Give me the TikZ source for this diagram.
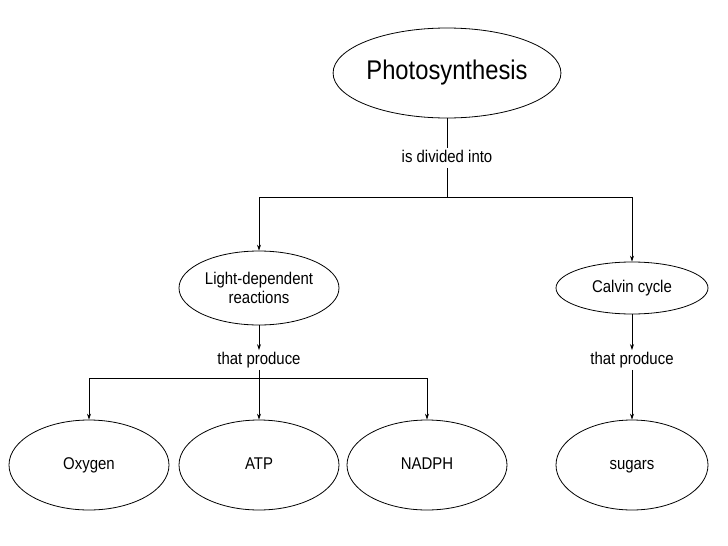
\documentclass[tikz,border=0pt]{standalone}
\usepackage{fontspec}
\setmainfont{Liberation Sans}[FakeStretch=0.88]
\usetikzlibrary{shapes.geometric,arrows.meta}
\begin{document}
\begin{tikzpicture}[x=1pt,y=-1pt,
 el/.style={draw,ellipse,line width=0.8pt,inner sep=0pt,font=\fontsize{17}{19}\selectfont,align=center},
 lab/.style={font=\fontsize{17}{19}\selectfont,fill=white,inner sep=2pt,text height=12pt,text depth=3.5pt},
 ln/.style={line width=0.7pt},
 ar/.style={ln,-{Stealth[length=6pt,width=4pt]}}]
\useasboundingbox (0,0) rectangle (728,546);
\node[el,minimum width=200pt,minimum height=90pt,font=\fontsize{27}{30}\selectfont] (ph) at (447,73) {Photosynthesis};
\node[lab] (d) at (447,158) {is divided into};
\node[el,minimum width=160pt,minimum height=74pt] (ld) at (259,288) {Light-dependent\\reactions};
\node[el,minimum width=152pt,minimum height=52pt] (cc) at (632,288) {Calvin cycle};
\node[lab] (p1) at (259,360) {that produce};
\node[lab] (p2) at (632,360) {that produce};
\tikzset{bot/.style={el,minimum height=90pt,text height=12pt,text depth=3.5pt}}
\node[bot,minimum width=160pt] (o) at (89,465) {Oxygen};
\node[bot,minimum width=160pt] (a) at (259,465) {ATP};
\node[bot,minimum width=160pt] (n) at (427,465) {NADPH};
\node[bot,minimum width=152pt] (s) at (632,465) {sugars};
\coordinate (h1) at (447,197);
\coordinate (h2) at (259,378);
\draw[ln] (ph) -- (d);
\draw[ln] (d) -- (h1);
\draw[ar] (h1) -| (ld);
\draw[ar] (h1) -| (cc);
\draw[ar] (ld) -- (p1);
\draw[ar] (cc) -- (p2);
\draw[ln] (p1) -- (h2);
\draw[ar] (h2) -| (o);
\draw[ar] (h2) -- (a);
\draw[ar] (h2) -| (n);
\draw[ar] (p2) -- (s);
\end{tikzpicture}
\end{document}
